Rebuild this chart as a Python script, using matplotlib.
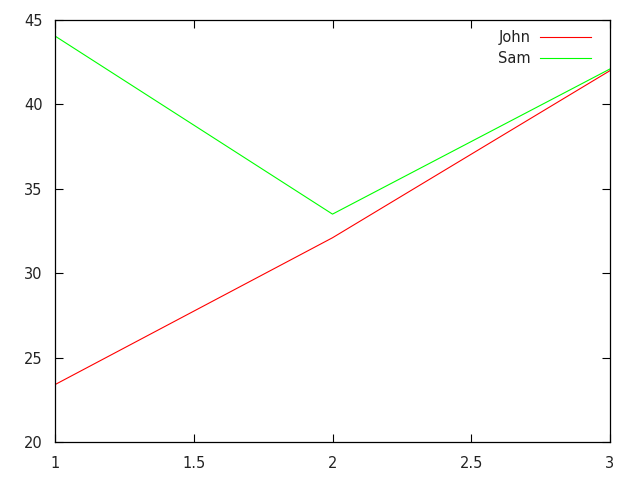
import matplotlib
matplotlib.use("Agg")
import matplotlib.pyplot as plt

x = [1, 2, 3]
john = [23.4, 32.1, 42.0]
sam = [44.05, 33.5, 42.1]
x_ticks = [1, 1.5, 2, 2.5, 3]
x_labels = ["1", "1.5", "2", "2.5", "3"]
y_ticks = [20, 25, 30, 35, 40, 45]

plt.rcParams['font.family'] = ['DejaVu Sans']

fig = plt.figure(figsize=(6.4, 4.8), dpi=100)
ax = fig.add_axes([55 / 640, 38 / 480, 555 / 640, 422 / 480])

ax.plot(x, john, color="#ff0000", linewidth=0.8, label="John")
ax.plot(x, sam, color="#00ff00", linewidth=0.8, label="Sam")

ax.set_xlim(1, 3)
ax.set_ylim(20, 45)
ax.set_xticks(x_ticks)
ax.set_xticklabels(x_labels)
ax.set_yticks(y_ticks)
ax.tick_params(direction="in", length=6, width=0.8, top=True, right=True,
               labelsize=10.5, pad=9, colors="black", labelcolor="#222222")
ax.tick_params(axis="x", pad=10)
for sp in ax.spines.values():
    sp.set_linewidth(0.9)

leg = ax.legend(loc="upper right", frameon=False, markerfirst=False,
                handlelength=3.5, handletextpad=0.7, labelspacing=0.4,
                fontsize=10.5, bbox_to_anchor=(0.985, 1.0), borderaxespad=0.3)
for t in leg.get_texts():
    t.set_ha("right")
    t.set_color("#222222")

fig.savefig("out.png", dpi=100)
